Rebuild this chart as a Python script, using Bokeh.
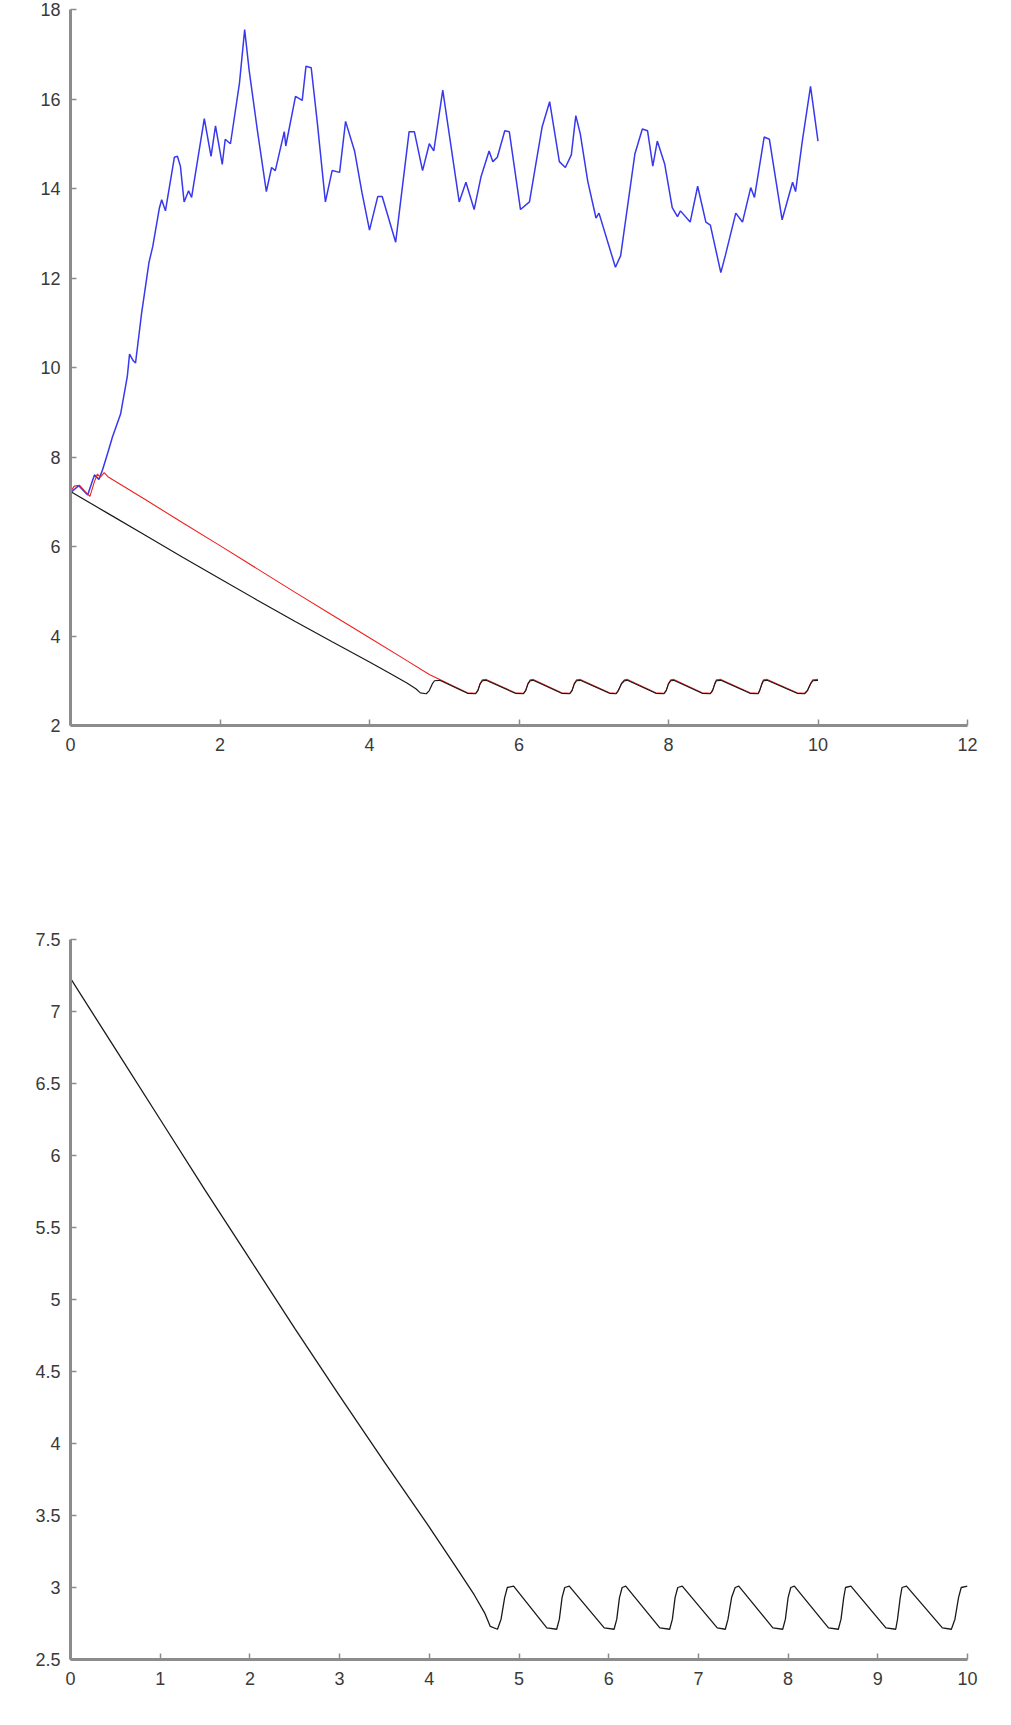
from bokeh.plotting import figure
from bokeh.layouts import column
from bokeh.models import Range1d, FixedTicker
from bokeh.embed import file_html
from bokeh.resources import INLINE

# ---------------- data ----------------
blue_t = [0.0, 0.11, 0.23, 0.32, 0.38, 0.43, 0.50, 0.56, 0.67, 0.76, 0.79, 0.84, 0.87, 0.95,
          1.05, 1.10, 1.19, 1.22, 1.27, 1.39, 1.43, 1.47, 1.52, 1.58, 1.62, 1.79, 1.88, 1.94,
          2.03, 2.07, 2.14, 2.26, 2.33, 2.39, 2.50, 2.62, 2.69, 2.74, 2.86, 2.88, 3.01, 3.10,
          3.15, 3.22, 3.30, 3.41, 3.50, 3.60, 3.68, 3.80, 3.90, 4.00, 4.11, 4.17, 4.35, 4.53,
          4.60, 4.71, 4.80, 4.86, 4.98, 5.20, 5.29, 5.40, 5.49, 5.60, 5.65, 5.71, 5.81, 5.87,
          6.02, 6.14, 6.31, 6.41, 6.54, 6.62, 6.70, 6.76, 6.82, 6.92, 7.03, 7.07, 7.29, 7.36,
          7.55, 7.65, 7.72, 7.79, 7.85, 7.95, 8.05, 8.12, 8.16, 8.29, 8.39, 8.50, 8.56, 8.70,
          8.76, 8.90, 8.99, 9.10, 9.15, 9.28, 9.35, 9.52, 9.66, 9.70, 9.79, 9.90, 10.0]
blue_y = [7.2, 7.36, 7.15, 7.6, 7.5, 7.72, 8.1, 8.44, 8.96, 9.8, 10.3, 10.15, 10.1, 11.2,
          12.35, 12.7, 13.57, 13.75, 13.5, 14.7, 14.72, 14.5, 13.7, 13.95, 13.8, 15.56, 14.72, 15.4,
          14.54, 15.1, 15.0, 16.35, 17.55, 16.64, 15.3, 13.93, 14.47, 14.4, 15.27, 14.95, 16.06, 15.97,
          16.73, 16.7, 15.5, 13.7, 14.4, 14.36, 15.5, 14.84, 13.9, 13.07, 13.82, 13.82, 12.8, 15.27,
          15.27, 14.4, 15.0, 14.84, 16.2, 13.7, 14.14, 13.53, 14.25, 14.84, 14.6, 14.7, 15.29, 15.27,
          13.53, 13.7, 15.38, 15.94, 14.6, 14.47, 14.75, 15.63, 15.22, 14.16, 13.34, 13.45, 12.24, 12.5,
          14.77, 15.33, 15.29, 14.5, 15.06, 14.54, 13.57, 13.37, 13.5, 13.25, 14.05, 13.25, 13.18, 12.12,
          12.5, 13.45, 13.25, 14.02, 13.8, 15.15, 15.1, 13.3, 14.14, 13.93, 15.06, 16.28, 15.06]

red_t = [0.0, 0.05, 0.12, 0.20, 0.26, 0.32, 0.36, 0.40, 0.45, 0.50, 1.0, 1.5, 2.0, 2.5, 3.0,
         3.5, 4.0, 4.5, 4.8, 4.94,
         5.31, 5.42, 5.45, 5.48, 5.51, 5.56,
         5.95, 6.06, 6.09, 6.12, 6.15, 6.19,
         6.57, 6.68, 6.71, 6.74, 6.77, 6.82,
         7.21, 7.30, 7.33, 7.37, 7.41, 7.45,
         7.83, 7.94, 7.97, 8.00, 8.03, 8.07,
         8.45, 8.56, 8.59, 8.62, 8.64, 8.70,
         9.09, 9.20, 9.22, 9.25, 9.27, 9.32,
         9.72, 9.82, 9.86, 9.90, 9.93, 10.0]
red_y = [7.22, 7.35, 7.37, 7.22, 7.12, 7.45, 7.62, 7.55, 7.65, 7.56, 7.05, 6.53, 6.02, 5.5, 4.98,
         4.47, 3.96, 3.45, 3.14, 3.03,
         2.73, 2.72, 2.79, 2.94, 3.02, 3.03,
         2.73, 2.72, 2.79, 2.94, 3.02, 3.03,
         2.73, 2.72, 2.79, 2.94, 3.02, 3.03,
         2.73, 2.72, 2.79, 2.94, 3.02, 3.03,
         2.73, 2.72, 2.79, 2.94, 3.02, 3.03,
         2.73, 2.72, 2.79, 2.94, 3.02, 3.03,
         2.73, 2.72, 2.79, 2.94, 3.02, 3.03,
         2.73, 2.72, 2.79, 2.94, 3.02, 3.03]

black_t = [0.0, 0.5, 1.0, 1.5, 2.0, 2.5, 3.0, 3.5, 4.0, 4.3, 4.5, 4.62,
           4.68, 4.76, 4.80, 4.84, 4.87, 4.94,
           5.31, 5.42, 5.45, 5.48, 5.51, 5.56,
           5.95, 6.06, 6.09, 6.12, 6.15, 6.19,
           6.57, 6.68, 6.71, 6.74, 6.77, 6.82,
           7.21, 7.30, 7.33, 7.37, 7.41, 7.45,
           7.83, 7.94, 7.97, 8.00, 8.03, 8.07,
           8.45, 8.56, 8.59, 8.62, 8.64, 8.70,
           9.09, 9.20, 9.22, 9.25, 9.27, 9.32,
           9.72, 9.82, 9.86, 9.90, 9.93, 10.0]
black_y = [7.23, 6.74, 6.25, 5.76, 5.28, 4.80, 4.33, 3.87, 3.42, 3.14, 2.95, 2.82,
           2.73, 2.71, 2.78, 2.93, 3.00, 3.01,
           2.72, 2.71, 2.78, 2.93, 3.00, 3.01,
           2.72, 2.71, 2.78, 2.93, 3.00, 3.01,
           2.72, 2.71, 2.78, 2.93, 3.00, 3.01,
           2.72, 2.71, 2.78, 2.93, 3.00, 3.01,
           2.72, 2.71, 2.78, 2.93, 3.00, 3.01,
           2.72, 2.71, 2.78, 2.93, 3.00, 3.01,
           2.72, 2.71, 2.78, 2.93, 3.00, 3.01,
           2.72, 2.71, 2.78, 2.93, 3.00, 3.01]

top_xticks = [0, 2, 4, 6, 8, 10, 12]
top_yticks = [2, 4, 6, 8, 10, 12, 14, 16, 18]
bot_xticks = [0, 1, 2, 3, 4, 5, 6, 7, 8, 9, 10]
bot_yticks = [2.5, 3, 3.5, 4, 4.5, 5, 5.5, 6, 6.5, 7, 7.5]
bot_ylabels = ["2.5", "3", "3.5", "4", "4.5", "5", "5.5", "6", "6.5", "7", "7.5"]

AXIS_COLOR = "#8c8c8c"
LABEL_COLOR = "#3a3a3a"
FONT = "Liberation Sans"


def style(p, xticks, yticks):
    p.xaxis.ticker = FixedTicker(ticks=xticks)
    p.yaxis.ticker = FixedTicker(ticks=yticks)
    for ax in (p.xaxis[0], p.yaxis[0]):
        ax.axis_line_color = AXIS_COLOR
        ax.axis_line_width = 3
        ax.major_tick_line_color = AXIS_COLOR
        ax.major_tick_line_width = 1.5
        ax.major_tick_in = 6
        ax.major_tick_out = 0
        ax.minor_tick_line_color = None
        ax.major_label_text_color = LABEL_COLOR
        ax.major_label_text_font = FONT
        ax.major_label_text_font_size = "18px"
    p.xaxis[0].major_label_standoff = 12
    p.yaxis[0].major_label_standoff = 10
    p.xgrid.visible = False
    p.ygrid.visible = False
    p.outline_line_color = None
    p.background_fill_color = "white"
    p.border_fill_color = "white"


p1 = figure(width=995, height=777, output_backend="svg", toolbar_location=None,
            x_range=Range1d(0, 12), y_range=Range1d(2, 18),
            min_border_left=70, min_border_right=28, min_border_top=9, min_border_bottom=52)
style(p1, top_xticks, top_yticks)
p1.line(blue_t, blue_y, line_color="#3838ee", line_width=1.5)
p1.line(red_t, red_y, line_color="#f02020", line_width=1.1)
p1.line(black_t, black_y, line_color="#1a1a1a", line_width=1.2)

p2 = figure(width=995, height=922, output_backend="svg", toolbar_location=None,
            x_range=Range1d(0, 10), y_range=Range1d(2.5, 7.5),
            min_border_left=64, min_border_right=18, min_border_top=162, min_border_bottom=40)
style(p2, bot_xticks, bot_yticks)
p2.yaxis[0].major_label_overrides = {v: s for v, s in zip(bot_yticks, bot_ylabels)}
p2.line(black_t, black_y, line_color="#1a1a1a", line_width=1.3)

layout = column(p1, p2, spacing=0)
open("out.html", "w").write(file_html(layout, INLINE))
